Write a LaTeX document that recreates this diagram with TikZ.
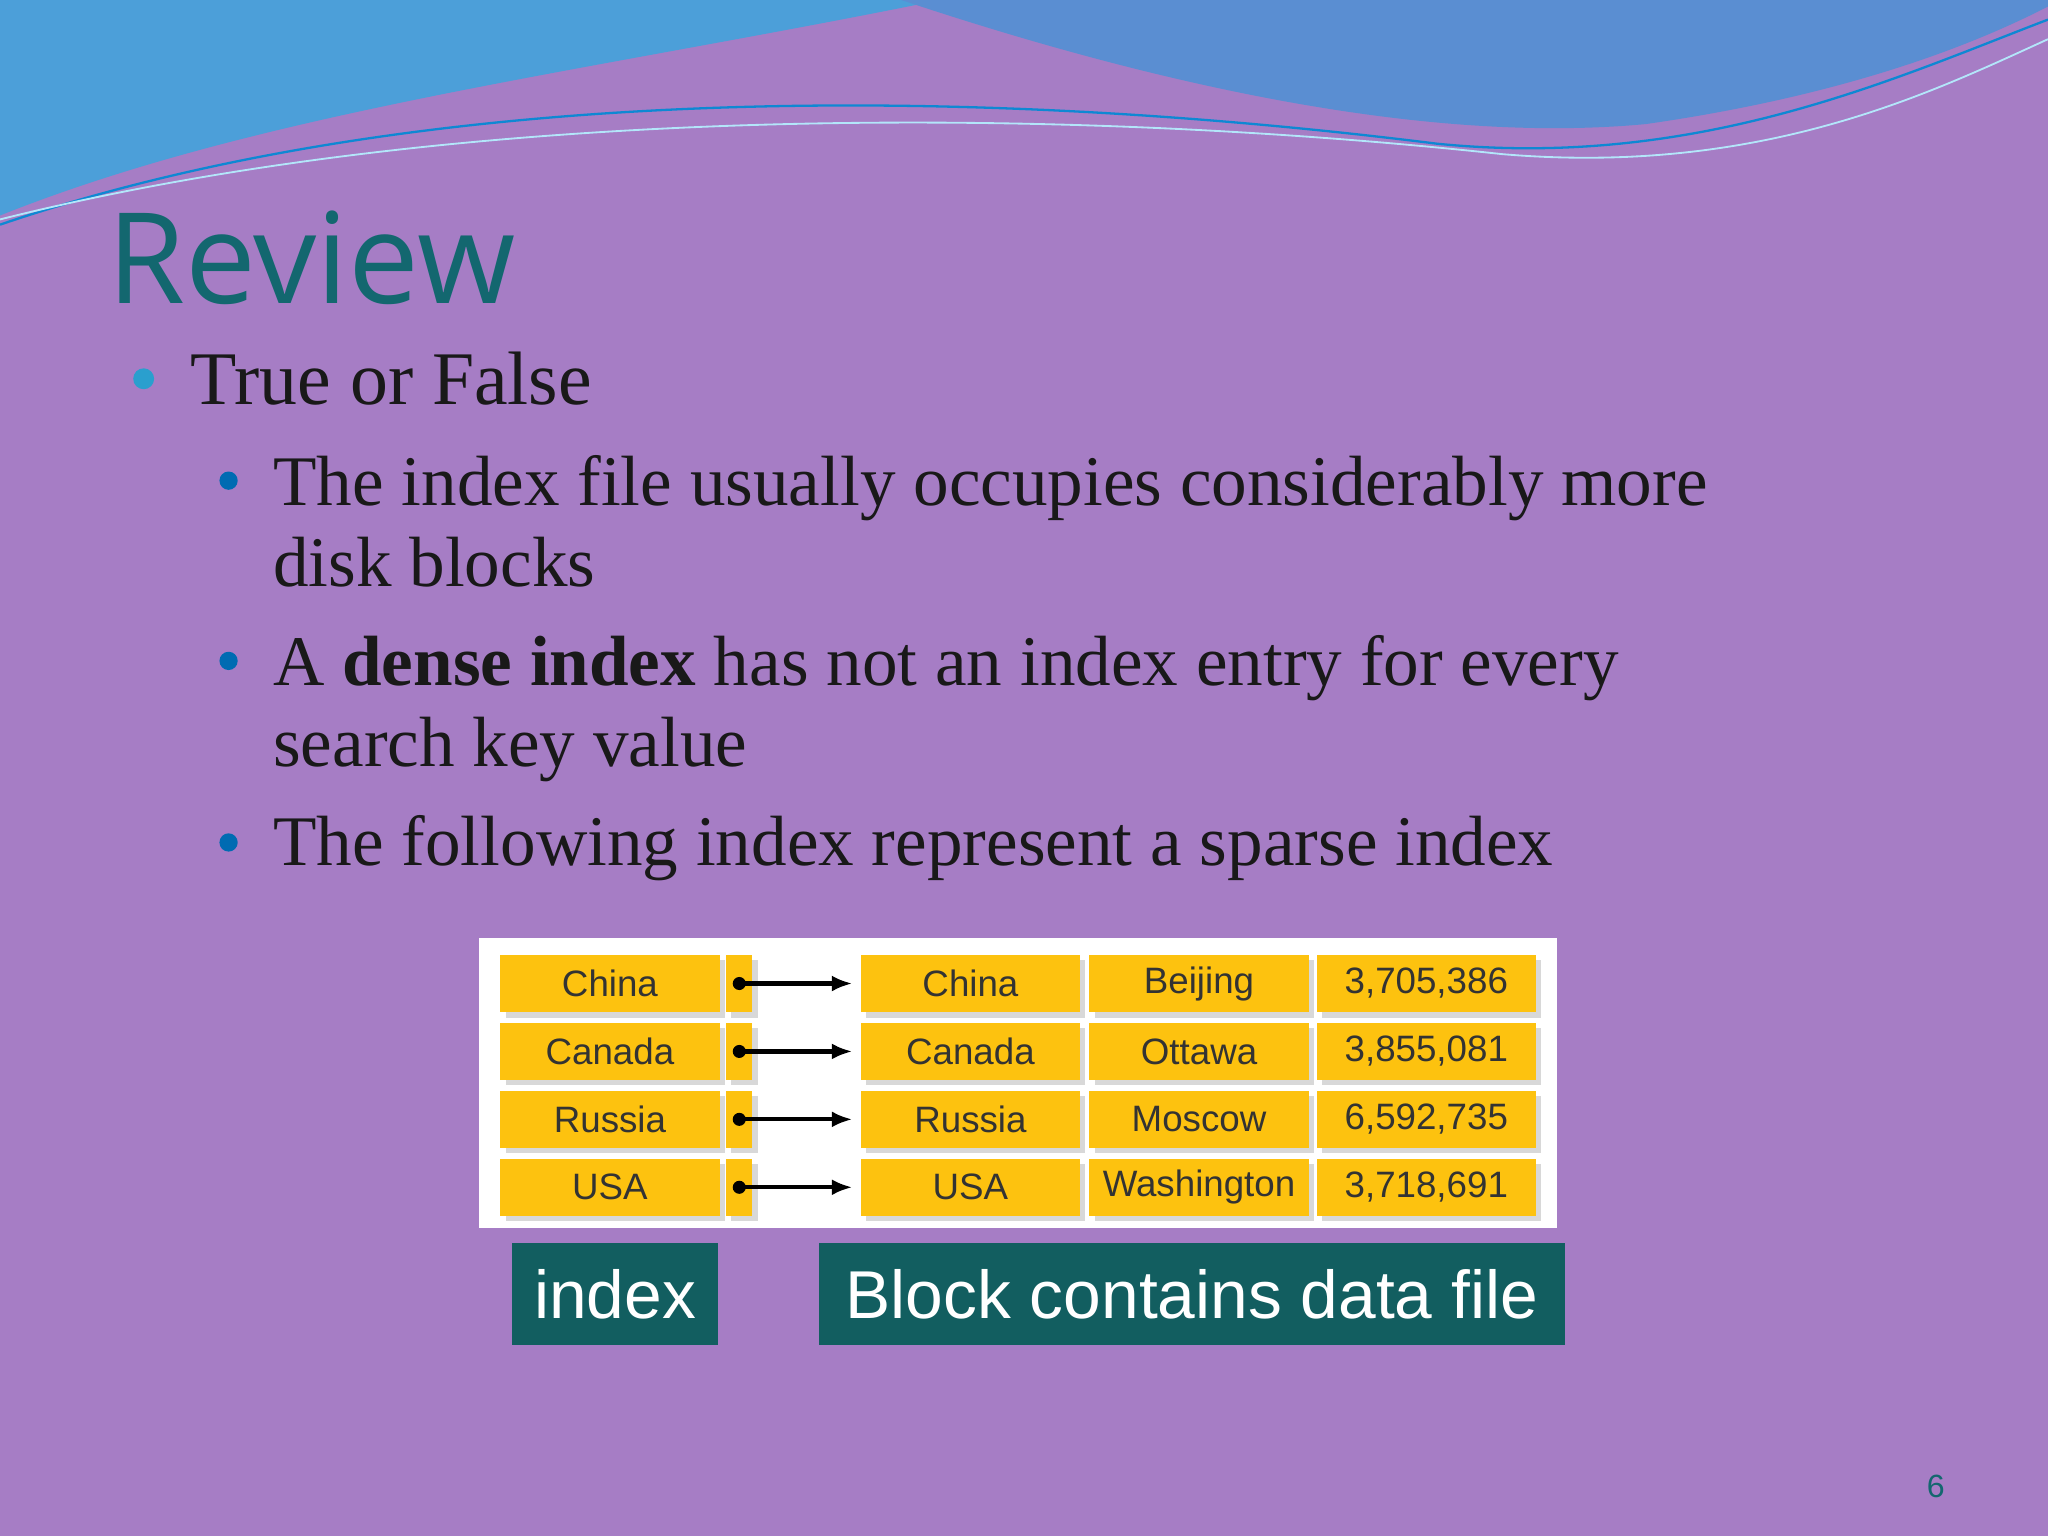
\documentclass[tikz,border=0pt]{standalone}
\usepackage{fontspec}
\setmainfont{Liberation Serif}
\newfontfamily\titlefont{Open Sans}
\newfontfamily\tabfont{Liberation Sans}
\definecolor{bg}{HTML}{A67DC5}
\definecolor{teal}{HTML}{13676F}
\definecolor{wave}{HTML}{5A8ED2}
\definecolor{cell}{HTML}{FDC20F}
\definecolor{lab}{HTML}{125E60}
\newlength\pxu \setlength\pxu{0.02cm}
\usetikzlibrary{shadows,arrows.meta}
\tikzset{
 cellbox/.style={fill=cell,minimum width=168\pxu,minimum height=44\pxu,inner sep=0pt,font=\tabfont\fontsize{16}{18}\selectfont,text=black!80,drop shadow={opacity=0.3}},
 labbox/.style={fill=lab,text=white,inner sep=0pt,font=\tabfont\fontsize{29.5}{32}\selectfont},
 para/.style={anchor=base west,font=\fontsize{31}{36}\selectfont,text=black!90},
}
\begin{document}
\begin{tikzpicture}[x=0.02cm,y=-0.02cm]
\fill[bg] (0,0) rectangle (1568,1176);
\useasboundingbox (0,0) rectangle (1568,1176);
% waves
\fill[wave!85!cyan] (0,0) -- (0,165) .. controls (200,85) and (450,55) .. (720,0) -- cycle;
\fill[wave] (690,0) .. controls (900,70) and (1100,110) .. (1260,95) .. controls (1400,75) and (1500,40) .. (1568,5) -- (1568,0) -- cycle;
\draw[cyan!70!blue,line width=1pt] (0,172) .. controls (300,70) and (700,60) .. (1100,110) .. controls (1300,130) and (1450,60) .. (1568,15);
\draw[white!70!cyan,line width=0.8pt] (0,168) .. controls (350,80) and (800,80) .. (1150,118) .. controls (1350,135) and (1480,70) .. (1568,30);
\node[anchor=base west,font=\titlefont\fontsize{55}{60}\selectfont,text=teal] (title) at (76,232) {Review};
\fill[cyan!70!teal] (110,290) circle (8);
\node[anchor=base west,font=\fontsize{33}{38}\selectfont,text=black!90] (b1) at (140,310) {True or False};
\foreach \y in {368,506,645} \fill[blue!40!cyan!70!black] (175,\y) circle (7);
\node[para] (s1) at (203,387) {The index file usually occupies considerably more};
\node[para] (s1b) at (203,449) {disk blocks};
\node[para] (s2) at (203,525) {A \textbf{dense index} has not an index entry for every};
\node[para] (s2b) at (203,587) {search key value};
\node[para] (s3) at (203,663) {The following index represent a sparse index};
% table
\fill[white] (367,718) rectangle (1192,940);
\foreach \t/\c/\n [count=\i] in {China/Beijing/3{,}705{,}386,Canada/Ottawa/3{,}855{,}081,Russia/Moscow/6{,}592{,}735,USA/Washington/3{,}718{,}691}{
  \pgfmathsetmacro\yy{753+52*(\i-1)}
  \node[cellbox] (k\i) at (467,\yy) {\t};
  \node[cellbox,minimum width=20\pxu] (p\i) at (566,\yy) {};
  \node[cellbox] (d\i) at (743,\yy) {\t};
  \node[cellbox] (c\i) at (918,\yy) {\c};
  \node[cellbox] (n\i) at (1092,\yy) {\n};
  \fill (p\i.center) circle (5);
  \draw[-{Latex[length=9pt,width=7pt]},line width=1.8pt,shorten >=6\pxu] (p\i.center) -- (d\i.west);
}
\node[labbox,minimum width=158\pxu,minimum height=78\pxu] (li) at (471,991) {index};
\node[labbox,minimum width=571\pxu,minimum height=78\pxu] (lb) at (912.5,991) {Block contains data file};
\node[font=\tabfont\fontsize{14}{16}\selectfont,text=teal] (num) at (1482,1138) {6};
\end{tikzpicture}
\end{document}
